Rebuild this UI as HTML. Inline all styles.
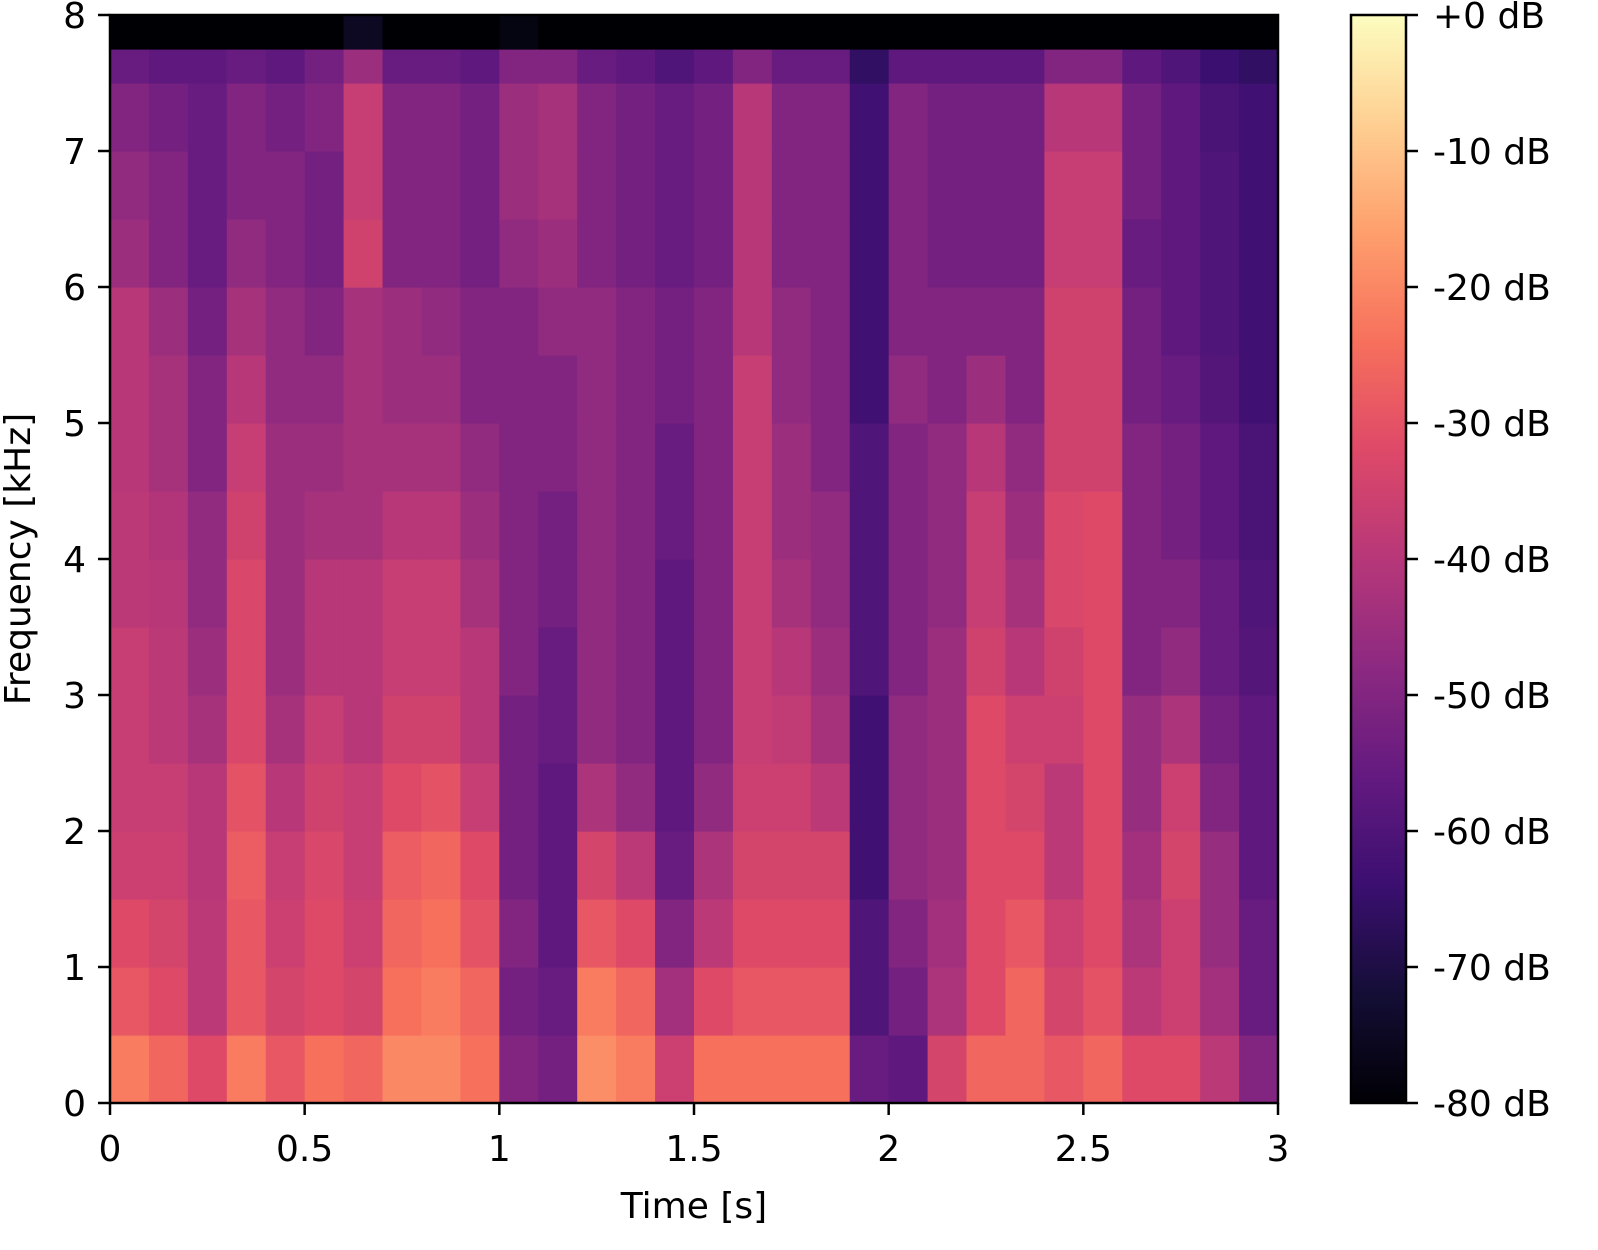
<!DOCTYPE html>
<html><head><meta charset="utf-8"><style>
html,body{margin:0;padding:0;background:#fff;}
svg{display:block;font-family:"DejaVu Sans","Liberation Sans",sans-serif;}
</style></head><body>
<svg id="chart" width="1598" height="1250" viewBox="0 0 1598 1250">
<defs>
<linearGradient id="cbg" x1="0" y1="1" x2="0" y2="0">
<stop offset="0" stop-color="#000004"/><stop offset="0.1" stop-color="#140e36"/><stop offset="0.2" stop-color="#3b0f70"/><stop offset="0.3" stop-color="#641a80"/><stop offset="0.4" stop-color="#8c2981"/><stop offset="0.5" stop-color="#b73779"/><stop offset="0.6" stop-color="#de4968"/><stop offset="0.7" stop-color="#f7705c"/><stop offset="0.8" stop-color="#fe9f6d"/><stop offset="0.9" stop-color="#fecf92"/><stop offset="1" stop-color="#fcfdbf"/>
</linearGradient>
</defs>
<g id="cells"></g>
<g id="axes"></g>
</svg>
<script>
const timeEdges = [0,0.1,0.2,0.3,0.4,0.5,0.6,0.7,0.8,0.9,1.0,1.1,1.2,1.3,1.4,1.5,1.6,1.7,1.8,1.9,2.0,2.1,2.2,2.3,2.4,2.5,2.6,2.7,2.8,2.9,3.0];
const freqEdges = [0,0.5,1,1.5,2,2.5,3,3.5,4,4.5,5,5.5,6,6.5,7,7.5,7.75,8];
const powerDb = [
[-22,-29,-32,-36,-37,-37,-37,-39,-39,-40,-40,-40,-45,-47,-50,-55,-80],
[-26,-32,-34,-36,-37,-39,-39,-40,-41,-43,-43,-45,-50,-50,-53,-57,-80],
[-32,-39,-39,-40,-40,-43,-45,-47,-47,-50,-50,-53,-55,-55,-55,-57,-80],
[-22,-29,-29,-28,-30,-33,-33,-33,-35,-37,-40,-43,-47,-50,-50,-55,-80],
[-29,-34,-36,-37,-40,-43,-45,-45,-45,-45,-47,-47,-50,-50,-53,-57,-80],
[-24,-32,-32,-33,-35,-37,-40,-40,-43,-45,-47,-50,-53,-53,-50,-53,-80],
[-26,-34,-36,-37,-37,-40,-40,-40,-43,-43,-43,-43,-35,-37,-37,-45,-75],
[-20,-24,-26,-28,-32,-35,-37,-37,-40,-43,-45,-45,-50,-50,-50,-55,-80],
[-20,-22,-24,-26,-30,-35,-37,-37,-40,-43,-45,-47,-50,-50,-50,-55,-80],
[-24,-26,-30,-32,-37,-40,-40,-43,-45,-47,-50,-50,-53,-53,-53,-57,-80],
[-50,-53,-50,-53,-53,-53,-50,-50,-50,-50,-50,-50,-47,-45,-45,-50,-78],
[-53,-55,-57,-57,-57,-55,-55,-53,-53,-50,-50,-47,-45,-43,-43,-50,-80],
[-19,-22,-29,-34,-42,-47,-47,-47,-47,-47,-47,-47,-50,-50,-50,-55,-80],
[-22,-26,-32,-39,-47,-50,-50,-50,-50,-50,-50,-50,-53,-53,-53,-57,-80],
[-36,-44,-50,-55,-57,-57,-57,-57,-55,-55,-53,-53,-55,-55,-55,-60,-80],
[-24,-32,-39,-42,-47,-50,-50,-50,-50,-50,-50,-50,-53,-53,-53,-57,-80],
[-24,-29,-32,-34,-36,-37,-37,-37,-37,-37,-37,-40,-40,-40,-40,-50,-80],
[-24,-29,-32,-34,-36,-38,-40,-43,-45,-45,-47,-47,-50,-50,-50,-55,-80],
[-24,-29,-32,-34,-39,-43,-45,-47,-47,-50,-50,-50,-50,-50,-50,-55,-80],
[-55,-60,-60,-63,-63,-63,-60,-60,-60,-60,-63,-63,-63,-63,-63,-66,-80],
[-57,-53,-50,-47,-47,-47,-50,-50,-50,-50,-47,-50,-50,-50,-50,-57,-80],
[-34,-42,-44,-45,-45,-45,-45,-47,-47,-47,-50,-50,-53,-53,-53,-57,-80],
[-26,-32,-32,-32,-32,-32,-35,-37,-37,-40,-45,-50,-53,-53,-53,-57,-80],
[-26,-26,-29,-32,-34,-36,-40,-43,-45,-47,-50,-50,-53,-53,-53,-57,-80],
[-29,-34,-36,-39,-39,-36,-35,-33,-33,-35,-35,-35,-37,-37,-40,-50,-80],
[-26,-30,-32,-32,-32,-32,-32,-32,-32,-35,-35,-35,-37,-37,-40,-50,-80],
[-32,-39,-42,-44,-46,-46,-50,-50,-50,-50,-53,-53,-55,-53,-53,-57,-80],
[-32,-36,-36,-34,-36,-42,-47,-50,-53,-53,-55,-57,-57,-57,-57,-60,-80],
[-39,-44,-46,-46,-50,-53,-55,-55,-57,-57,-59,-60,-60,-60,-61,-64,-80],
[-50,-55,-55,-57,-57,-57,-59,-60,-61,-61,-63,-63,-63,-63,-63,-66,-80]
];
const xTicks = [0,0.5,1,1.5,2,2.5,3];
const xTickLabels = ["0","0.5","1","1.5","2","2.5","3"];
const yTicks = [0,1,2,3,4,5,6,7,8];
const yTickLabels = ["0","1","2","3","4","5","6","7","8"];
const cbTicks = [0,-10,-20,-30,-40,-50,-60,-70,-80];
const cbTickLabels = ["+0 dB","-10 dB","-20 dB","-30 dB","-40 dB","-50 dB","-60 dB","-70 dB","-80 dB"];

const PX0=110, PX1=1278, PY0=15, PY1=1103;
const CBX=1351, CBW=55;
const xScale = t => PX0 + (t-0)/(3-0)*(PX1-PX0);
const yScale = f => PY1 - (f-0)/(8-0)*(PY1-PY0);
const cbScale = d => PY1 - (d+80)/80*(PY1-PY0);
const magma = ["#000004","#140e36","#3b0f70","#641a80","#8c2981","#b73779","#de4968","#f7705c","#fe9f6d","#fecf92","#fcfdbf"];
function hex(c){return [1,3,5].map(i=>parseInt(c.substr(i,2),16));}
function color(db){
  let v=Math.max(0,Math.min(1,(db+80)/80))*10;
  let i=Math.min(9,Math.floor(v)), f=v-i;
  let a=hex(magma[i]), b=hex(magma[i+1]);
  return "rgb("+a.map((x,k)=>Math.round(x+(b[k]-x)*f)).join(",")+")";
}
const NS="http://www.w3.org/2000/svg";
function mk(tag,attrs,parent){const e=document.createElementNS(NS,tag);for(const k in attrs)e.setAttribute(k,attrs[k]);parent.appendChild(e);return e;}
const cells=document.getElementById('cells');
powerDb.forEach((col,ci)=>{
  col.forEach((db,fi)=>{
    const x0=xScale(timeEdges[ci]), x1=xScale(timeEdges[ci+1]);
    const y0=yScale(freqEdges[fi+1]), y1=yScale(freqEdges[fi]);
    const r=mk('rect',{x:x0,y:y0,width:x1-x0+0.6,height:y1-y0+0.6,fill:color(db)},cells);
    
    
  });
});
const ax=document.getElementById('axes');
const frame=mk('rect',{x:PX0,y:PY0,width:PX1-PX0,height:PY1-PY0,fill:'none',stroke:'#000','stroke-width':2.5},ax);


xTicks.forEach((t,i)=>{
  const x=xScale(t);
  mk('line',{x1:x,y1:PY1,x2:x,y2:PY1+12,stroke:'#000','stroke-width':2.5},ax);
  const tx=mk('text',{x:x,y:PY1+58,'font-size':36,'text-anchor':'middle'},ax);
  tx.textContent=xTickLabels[i];
  
  
});
yTicks.forEach((f,i)=>{
  const y=yScale(f);
  mk('line',{x1:PX0-12,y1:y,x2:PX0,y2:y,stroke:'#000','stroke-width':2.5},ax);
  const tx=mk('text',{x:PX0-24,y:y+13,'font-size':36,'text-anchor':'end'},ax);
  tx.textContent=yTickLabels[i];
  
  
});
const xt=mk('text',{x:(PX0+PX1)/2,y:1218,'font-size':36,'text-anchor':'middle'},ax);
xt.textContent='Time [s]';


const yt=mk('text',{x:0,y:0,'font-size':36,'text-anchor':'middle',transform:'translate(30,'+((PY0+PY1)/2)+') rotate(-90)'},ax);
yt.textContent='Frequency [kHz]';


const cb=mk('rect',{x:CBX,y:PY0,width:CBW,height:PY1-PY0,fill:'url(#cbg)',stroke:'#000','stroke-width':2.5},ax);


cbTicks.forEach((d,i)=>{
  const y=cbScale(d);
  mk('line',{x1:CBX+CBW,y1:y,x2:CBX+CBW+12,y2:y,stroke:'#000','stroke-width':2.5},ax);
  const tx=mk('text',{x:CBX+CBW+27,y:y+13,'font-size':36},ax);
  tx.textContent=cbTickLabels[i];
  
  
});
</script>
</body></html>
